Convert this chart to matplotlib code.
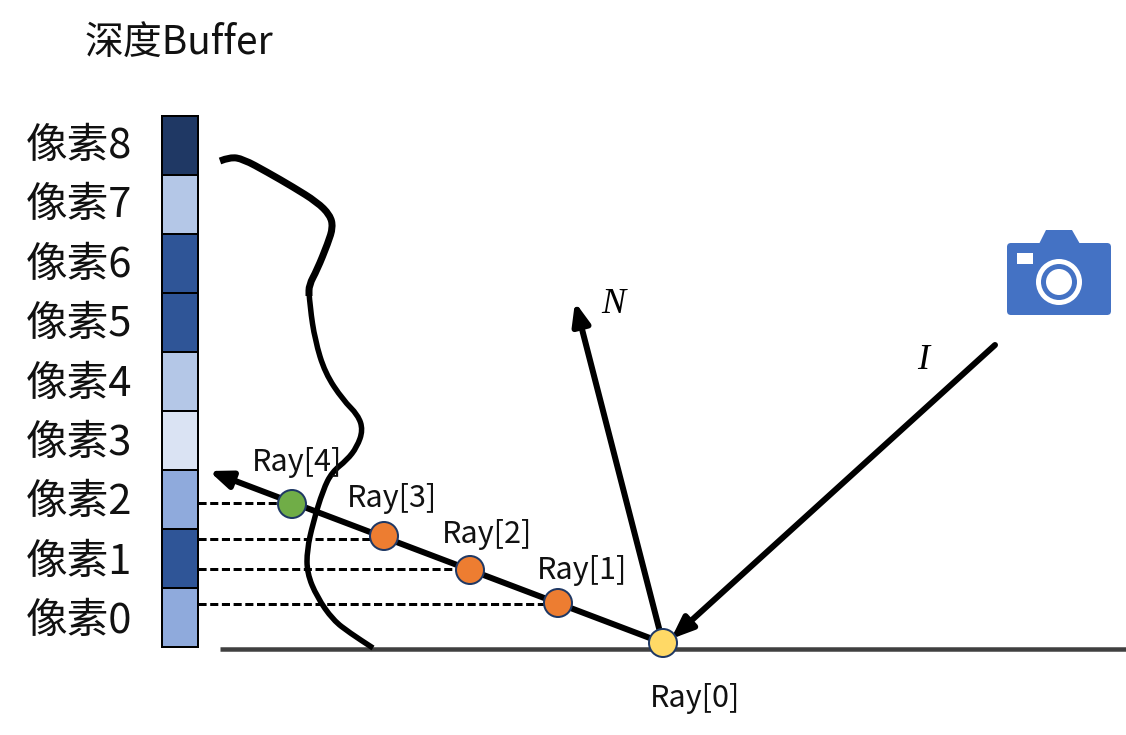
import matplotlib
matplotlib.use("Agg")
import matplotlib.pyplot as plt
from matplotlib.patches import Rectangle, Circle, Polygon, FancyBboxPatch, PathPatch
from matplotlib.path import Path

W, H = 1126, 735
PX = 0.72  # one pixel in points at dpi 100

# depth buffer, top to bottom
pixel_labels = ["像素8", "像素7", "像素6", "像素5", "像素4", "像素3", "像素2", "像素1", "像素0"]
pixel_colors = ["#1F3864", "#B4C7E7", "#2F5597", "#2F5597", "#B4C7E7", "#DAE3F3", "#8FAADC", "#2F5597", "#8FAADC"]
buffer_x = 162
buffer_w = 36
buffer_top = 116
cell_h = 59
label_pitch = 59.4

# march points along the reflected ray
ray_labels = ["Ray[0]", "Ray[1]", "Ray[2]", "Ray[3]", "Ray[4]"]
ray_x = [663, 558, 470, 384, 292]
ray_y = [643, 603, 570, 536, 504]
ray_colors = ["#FFD966", "#ED7D31", "#ED7D31", "#ED7D31", "#70AD47"]
label_x = [695, 582, 487, 392, 297]
label_y = [698, 570, 534, 499, 462]
dash_y = [604, 569, 539, 503]

# scene surface, thick upper part then thin lower part
curve_top_x = [220, 230, 243, 267, 293, 317, 330, 333, 328, 317, 309, 309]
curve_top_y = [161, 157, 159, 172, 187, 202, 215, 227, 243, 270, 285, 296]
curve_low_x = [309, 310, 315, 325, 343, 358, 363, 357, 347, 332, 323, 313, 307, 307, 317, 333, 350, 373]
curve_low_y = [292, 307, 340, 373, 400, 415, 430, 447, 460, 472, 490, 523, 550, 573, 597, 620, 633, 648]


def smooth_curve(ax, xs, ys, lw):
    # quadratic pieces through the midpoints of the read points
    verts = [(xs[0], ys[0])]
    codes = [Path.MOVETO]
    for i in range(1, len(xs) - 1):
        verts += [(xs[i], ys[i]), ((xs[i] + xs[i + 1]) / 2, (ys[i] + ys[i + 1]) / 2)]
        codes += [Path.CURVE3, Path.CURVE3]
    verts.append((xs[-1], ys[-1]))
    codes.append(Path.LINETO)
    ax.add_patch(PathPatch(Path(verts, codes), fc="none", ec="black", lw=lw * PX,
                           capstyle="butt", joinstyle="round", zorder=2))


def arrow(ax, start, tip, lw, size):
    ax.annotate("", xy=tip, xytext=start,
                arrowprops=dict(arrowstyle="-|>,head_length=0.65,head_width=0.26", color="black",
                                lw=lw * PX, mutation_scale=size, shrinkA=0, shrinkB=0),
                zorder=3)


fig = plt.figure(figsize=(W / 100, H / 100), dpi=100)
ax = fig.add_axes([0, 0, 1, 1])
ax.set_xlim(0, W)
ax.set_ylim(H, 0)
ax.axis("off")

cjk = ["Noto Sans CJK SC", "DejaVu Sans"]

ax.text(85, 44, "深度Buffer", fontsize=28, family=cjk, va="center", ha="left", color="#111111")

# ---------------- BUFFER ----------------
for i, (name, col) in enumerate(zip(pixel_labels, pixel_colors)):
    y = buffer_top + i * cell_h
    ax.add_patch(Rectangle((buffer_x, y), buffer_w, cell_h, fc=col, ec="black", lw=2 * PX, zorder=4))
    ax.text(79, 158 + i * label_pitch, name, fontsize=30, family=cjk, va="baseline", ha="center", color="#111111")

# ---------------- SCENE ----------------
ax.plot([220, W], [648.5, 648.5], color="#404040", lw=4.5 * PX, solid_capstyle="butt", zorder=1)
smooth_curve(ax, curve_top_x, curve_top_y, 7)
smooth_curve(ax, curve_low_x, curve_low_y, 5.5)

for x, y in zip(ray_x[1:], dash_y):
    ax.plot([buffer_x + buffer_w, x], [y, y], color="black", lw=3 * PX, dashes=(2.7, 1.2), zorder=2)

# ---------------- RAYS ----------------
arrow(ax, (ray_x[0], ray_y[0]), (209, 471), 6, 20)
arrow(ax, (660, 632), (575, 302), 6, 20)
arrow(ax, (995, 345), (671, 639), 6, 20)

ax.scatter(ray_x, ray_y, s=(28 * PX) ** 2, c=ray_colors, edgecolors="#1F3864", linewidths=2 * PX, zorder=5)
for name, x, y in zip(ray_labels, label_x, label_y):
    ax.text(x, y, name, fontsize=22, family=cjk, va="center", ha="center", color="#111111", zorder=6)

ax.text(613, 304, "N", fontsize=26, family="Liberation Serif", style="italic", va="center", ha="center")
ax.text(923, 360, "I", fontsize=26, family="Liberation Serif", style="italic", va="center", ha="center")

# ---------------- CAMERA ----------------
blue = "#4472C4"
ax.add_patch(FancyBboxPatch((1010, 246), 98, 66, boxstyle="round,pad=3,rounding_size=4", fc=blue, ec="none"))
ax.add_patch(Polygon([(1039, 244), (1046, 230), (1072, 230), (1080, 244)], fc=blue, ec="none"))
ax.add_patch(Rectangle((1017, 253), 16, 11, fc="white", ec="none"))
ax.add_patch(Circle((1059, 282), 23, fc="white", ec="none"))
ax.add_patch(Circle((1059, 282), 18, fc=blue, ec="none"))
ax.add_patch(Circle((1059, 282), 13, fc="white", ec="none"))

fig.savefig("out.png", dpi=100)
